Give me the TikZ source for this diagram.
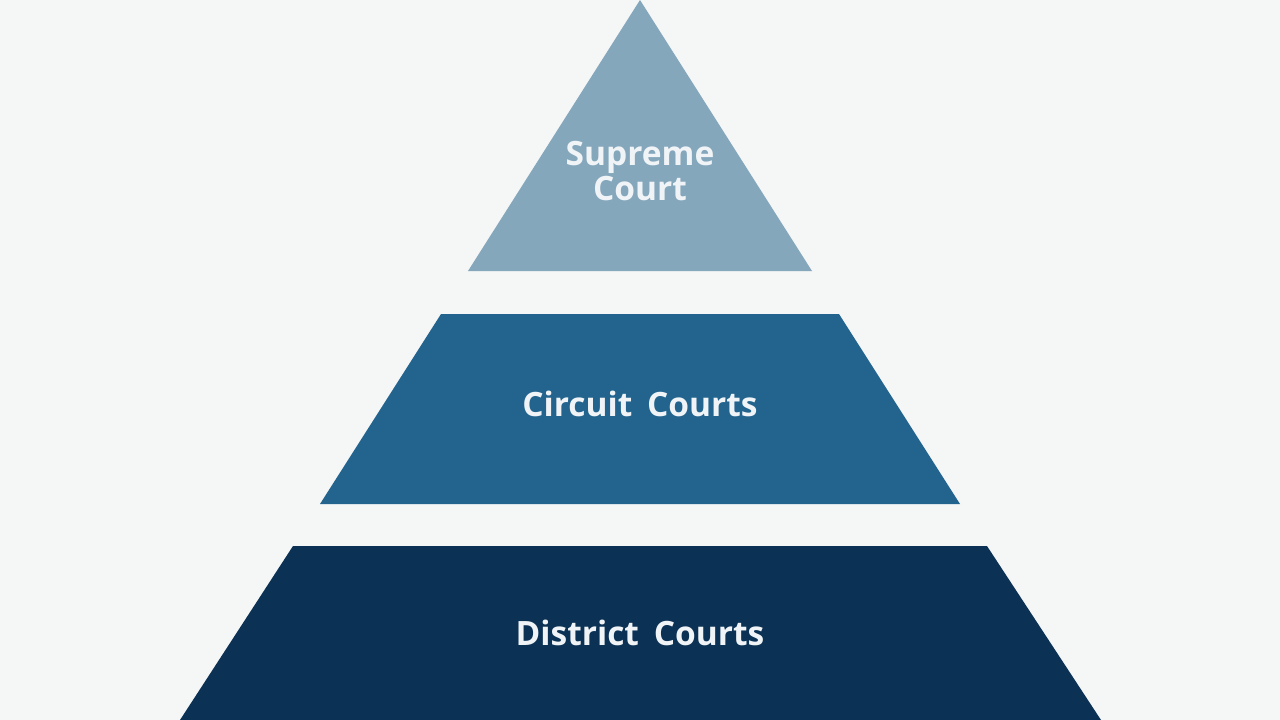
\documentclass[tikz,border=0pt]{standalone}
\usepackage{fontspec}
\setmainfont[WordSpace=1.7]{Open Sans}
\definecolor{pagebg}{RGB}{245,246,246}
\definecolor{topcol}{RGB}{133,167,188}
\definecolor{midcol}{RGB}{35,100,142}
\definecolor{lowcol}{RGB}{11,49,84}
\definecolor{labelcol}{RGB}{240,244,246}
\tikzset{
  tier/.style={draw=none},
  tierlabel/.style={text=labelcol, font=\fontsize{33.5}{35}\selectfont\bfseries, align=center, inner sep=0pt}
}
\begin{document}
\begin{tikzpicture}[x=1pt,y=-1pt]
  \fill[pagebg] (0,0) rectangle (1280,720);
  \useasboundingbox (0,0) rectangle (1280,720);

  \fill[tier, topcol] (640,0) -- (812,271) -- (468,271) -- cycle;
  \fill[tier, midcol] (441,314) -- (839,314) -- (960,504) -- (320,504) -- cycle;
  \fill[tier, lowcol] (293,546) -- (987,546) -- (1101,720) -- (180,720) -- cycle;

  \node[tierlabel] (supreme) at (640,171) {Supreme\\Court};
  \node[tierlabel] (circuit) at (640,404) {Circuit Courts};
  \node[tierlabel] (district) at (640,633) {District Courts};
\end{tikzpicture}
\end{document}
